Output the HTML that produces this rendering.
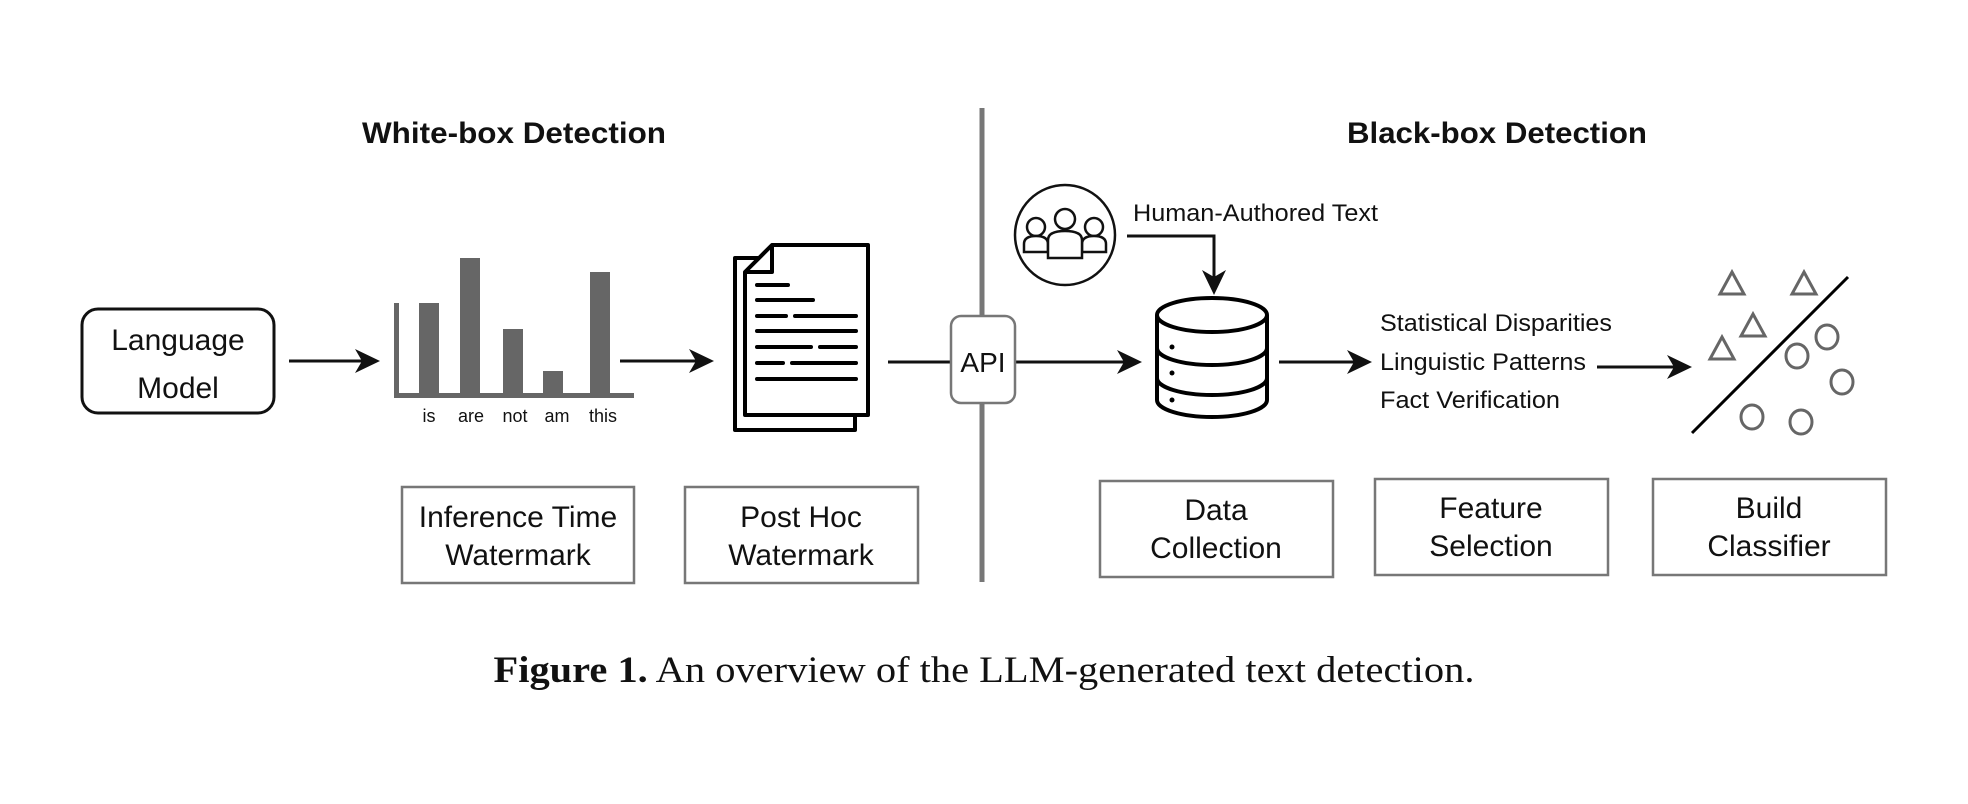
<!DOCTYPE html>
<html><head><meta charset="utf-8"><style>
html,body{margin:0;padding:0;background:#fff;}
svg{display:block;}
text{font-family:"Liberation Sans",Arial,sans-serif;fill:#111;}
</style></head><body>
<svg width="1968" height="804" viewBox="0 0 1968 804" xmlns="http://www.w3.org/2000/svg">
<rect width="1968" height="804" fill="#fff"/>
<!-- titles -->
<text x="514" y="143" font-size="30" font-weight="bold" text-anchor="middle" fill="#000" textLength="304" lengthAdjust="spacingAndGlyphs">White-box Detection</text>
<text x="1497" y="143" font-size="30" font-weight="bold" text-anchor="middle" fill="#000" textLength="300" lengthAdjust="spacingAndGlyphs">Black-box Detection</text>
<!-- divider -->
<line x1="982" y1="108" x2="982" y2="582" stroke="#777" stroke-width="5"/>

<!-- Language Model -->
<rect x="82" y="309" width="192" height="104" rx="16" fill="#fff" stroke="#111" stroke-width="3"/>
<text x="178" y="350" font-size="30" text-anchor="middle">Language</text>
<text x="178" y="398" font-size="30" text-anchor="middle">Model</text>

<g stroke="#111" stroke-width="3" fill="none">
<line x1="289" y1="361" x2="364" y2="361"/>
<line x1="620" y1="361" x2="700" y2="361"/>
<line x1="888" y1="362" x2="951" y2="362"/>
<line x1="1015" y1="362" x2="1128" y2="362"/>
<line x1="1279" y1="362" x2="1358" y2="362"/>
<line x1="1597" y1="367" x2="1678" y2="367"/>
<polyline points="1127,236 1214,236 1214,282"/>
</g>
<g fill="#111">
<path d="M380,361 L355,349 L362,361 L355,373 Z"/>
<path d="M714,361 L689,349 L696,361 L689,373 Z"/>
<path d="M1142,362 L1117,350 L1124,362 L1117,374 Z"/>
<path d="M1372,362 L1347,350 L1354,362 L1347,374 Z"/>
<path d="M1692,367 L1667,355 L1674,367 L1667,379 Z"/>
<path d="M1214,295 L1202,270 L1214,277 L1226,270 Z"/>
</g>

<!-- bar chart -->
<g fill="#666">
<rect x="394" y="303" width="5" height="95"/>
<rect x="394" y="393" width="240" height="5"/>
<rect x="419" y="303" width="20" height="92"/>
<rect x="460" y="258" width="20" height="137"/>
<rect x="503" y="329" width="20" height="66"/>
<rect x="543" y="371" width="20" height="24"/>
<rect x="590" y="272" width="20" height="123"/>
</g>
<g font-size="18" text-anchor="middle">
<text x="429" y="422">is</text>
<text x="471" y="422">are</text>
<text x="515" y="422">not</text>
<text x="557" y="422">am</text>
<text x="603" y="422">this</text>
</g>

<!-- document -->
<g stroke="#000" stroke-width="4" fill="#fff" stroke-linejoin="round">
<path d="M735,258 H855 V430 H735 Z" />
<path d="M772,245 H868 V415 H745 V272 Z"/>
<path d="M772,245 V272 H745" fill="none"/>
</g>
<g stroke="#000" stroke-width="4" stroke-linecap="round">
<line x1="757" y1="285" x2="788" y2="285"/>
<line x1="757" y1="300" x2="813" y2="300"/>
<line x1="757" y1="316" x2="786" y2="316"/><line x1="795" y1="316" x2="856" y2="316"/>
<line x1="757" y1="331" x2="856" y2="331"/>
<line x1="757" y1="347" x2="811" y2="347"/><line x1="820" y1="347" x2="856" y2="347"/>
<line x1="757" y1="363" x2="783" y2="363"/><line x1="792" y1="363" x2="856" y2="363"/>
<line x1="757" y1="379" x2="856" y2="379"/>
</g>

<!-- API -->
<rect x="951" y="316" width="64" height="87" rx="10" fill="#fff" stroke="#777" stroke-width="2.5"/>
<text x="983" y="372" font-size="28" text-anchor="middle">API</text>

<!-- people circle -->
<circle cx="1065" cy="235" r="50" fill="#fff" stroke="#111" stroke-width="2.5"/>
<g fill="#fff" stroke="#111" stroke-width="2.5">
<circle cx="1036" cy="227" r="9"/>
<circle cx="1094" cy="227" r="9"/>
<path d="M1024,252 v-8 q0,-8 12,-8 q12,0 12,8 v8 Z"/>
<path d="M1082,252 v-8 q0,-8 12,-8 q12,0 12,8 v8 Z"/>
<circle cx="1065" cy="219" r="10"/>
<path d="M1048,258 v-18 q0,-9 17,-9 q17,0 17,9 v18 Z"/>
</g>
<text x="1133" y="221" font-size="24" textLength="245" lengthAdjust="spacingAndGlyphs">Human-Authored Text</text>

<!-- database -->
<g fill="#fff" stroke="#000" stroke-width="4">
<path d="M1157,315 V400 A55,17 0 0 0 1267,400 V315"/>
<ellipse cx="1212" cy="315" rx="55" ry="17"/>
<path d="M1157,348 A55,17 0 0 0 1267,348" fill="none"/>
<path d="M1157,378 A55,17 0 0 0 1267,378" fill="none"/>
</g>
<g fill="#000"><circle cx="1172" cy="347" r="2.5"/><circle cx="1172" cy="373" r="2.5"/><circle cx="1172" cy="400" r="2.5"/></g>

<!-- features -->
<g font-size="24">
<text x="1380" y="331" textLength="232" lengthAdjust="spacingAndGlyphs">Statistical Disparities</text>
<text x="1380" y="370" textLength="206" lengthAdjust="spacingAndGlyphs">Linguistic Patterns</text>
<text x="1380" y="408" textLength="180" lengthAdjust="spacingAndGlyphs">Fact Verification</text>
</g>

<!-- classifier -->
<line x1="1692" y1="433" x2="1848" y2="277" stroke="#000" stroke-width="3"/>
<g fill="none" stroke="#666" stroke-width="3">
<path d="M1732,272 L1744,294 L1720,294 Z"/>
<path d="M1804,272 L1816,294 L1792,294 Z"/>
<path d="M1753,314 L1765,336 L1741,336 Z"/>
<path d="M1722,337 L1734,359 L1710,359 Z"/>
<ellipse cx="1827" cy="337" rx="11" ry="12"/>
<ellipse cx="1797" cy="356" rx="11" ry="12"/>
<ellipse cx="1842" cy="382" rx="11" ry="12"/>
<ellipse cx="1752" cy="417" rx="11" ry="12"/>
<ellipse cx="1801" cy="422" rx="11" ry="12"/>
</g>

<!-- bottom boxes -->
<g fill="#fff" stroke="#777" stroke-width="2.5">
<rect x="402" y="487" width="232" height="96"/>
<rect x="685" y="487" width="233" height="96"/>
<rect x="1100" y="481" width="233" height="96"/>
<rect x="1375" y="479" width="233" height="96"/>
<rect x="1653" y="479" width="233" height="96"/>
</g>
<g font-size="30" text-anchor="middle">
<text x="518" y="527">Inference Time</text>
<text x="518" y="565">Watermark</text>
<text x="801" y="527">Post Hoc</text>
<text x="801" y="565">Watermark</text>
<text x="1216" y="520">Data</text>
<text x="1216" y="558">Collection</text>
<text x="1491" y="518">Feature</text>
<text x="1491" y="556">Selection</text>
<text x="1769" y="518">Build</text>
<text x="1769" y="556">Classifier</text>
</g>

<!-- caption -->
<text x="984" y="682" font-size="37" text-anchor="middle" style="font-family:'Liberation Serif',serif" fill="#111" textLength="981" lengthAdjust="spacingAndGlyphs"><tspan font-weight="bold">Figure 1.</tspan> An overview of the LLM-generated text detection.</text>
</svg>
</body></html>
